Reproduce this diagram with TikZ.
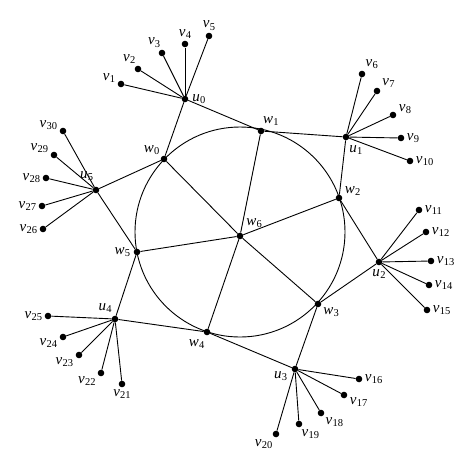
\documentclass[tikz,border=0pt]{standalone}
\usepackage{fontspec}
\setmainfont{Liberation Serif}
\newcommand\lab[2]{{\fontsize{15}{17}\selectfont\textit{#1}}\kern0.3pt\raisebox{-0.45ex}{\fontsize{10.5}{11}\selectfont #2}}
\begin{document}
\begin{tikzpicture}[x=1pt,y=-1pt,
  dot/.style={circle,fill=black,inner sep=0pt,minimum size=6.6pt},
  every label/.style={inner sep=1.2pt},
  label distance=1pt,
  edge/.style={line width=0.9pt}]
\useasboundingbox (0,0) rectangle (474,467);
% circle
\draw[edge] (240,232) circle[radius=105];
% inner vertices
\node[dot,label={135:\lab{w}{0}}] (w0) at (164,159) {};
\node[dot,label={80:\lab{w}{1}}] (w1) at (261,131) {};
\node[dot,label={10:\lab{w}{2}}] (w2) at (339,198) {};
\node[dot,label={-30:\lab{w}{3}}] (w3) at (318,304) {};
\node[dot,label={[label distance=3pt]-100:\lab{w}{4}}] (w4) at (207,332) {};
\node[dot,label={[label distance=2pt]180:\lab{w}{5}}] (w5) at (137,252) {};
\node[dot,label={[label distance=5pt]55:\lab{w}{6}}] (w6) at (240,236) {};
% outer hubs
\node[dot,label={[label distance=2.5pt]0:\lab{u}{0}}] (u0) at (185,99) {};
\node[dot,label={[label distance=4pt]-75:\lab{u}{1}}] (u1) at (346,137) {};
\node[dot,label={[label distance=3pt]-90:\lab{u}{2}}] (u2) at (379,262) {};
\node[dot,label={[label distance=3pt]190:\lab{u}{3}}] (u3) at (295,369) {};
\node[dot,label={[label distance=2pt]110:\lab{u}{4}}] (u4) at (115,319) {};
\node[dot,label={[label distance=5pt]100:\lab{u}{5}}] (u5) at (96,190) {};
% leaves
\node[dot,label={175:\lab{v}{1}}] (v1) at (121,84) {};
\node[dot,label={105:\lab{v}{2}}] (v2) at (138,69) {};
\node[dot,label={95:\lab{v}{3}}] (v3) at (162,53) {};
\node[dot,label={90:\lab{v}{4}}] (v4) at (185,44) {};
\node[dot,label={90:\lab{v}{5}}] (v5) at (209,36) {};
\node[dot,label={60:\lab{v}{6}}] (v6) at (362,74) {};
\node[dot,label={25:\lab{v}{7}}] (v7) at (377,91) {};
\node[dot,label={5:\lab{v}{8}}] (v8) at (393,115) {};
\node[dot,label={0:\lab{v}{9}}] (v9) at (401,138) {};
\node[dot,label={0:\lab{v}{10}}] (v10) at (410,161) {};
\node[dot,label={0:\lab{v}{11}}] (v11) at (419,210) {};
\node[dot,label={0:\lab{v}{12}}] (v12) at (426,232) {};
\node[dot,label={0:\lab{v}{13}}] (v13) at (431,261) {};
\node[dot,label={0:\lab{v}{14}}] (v14) at (429,285) {};
\node[dot,label={0:\lab{v}{15}}] (v15) at (427,310) {};
\node[dot,label={0:\lab{v}{16}}] (v16) at (359,379) {};
\node[dot,label={-10:\lab{v}{17}}] (v17) at (344,395) {};
\node[dot,label={-45:\lab{v}{18}}] (v18) at (321,413) {};
\node[dot,label={-75:\lab{v}{19}}] (v19) at (299,424) {};
\node[dot,label={-120:\lab{v}{20}}] (v20) at (276,434) {};
\node[dot,label={-90:\lab{v}{21}}] (v21) at (122,384) {};
\node[dot,label={-150:\lab{v}{22}}] (v22) at (101,373) {};
\node[dot,label={-170:\lab{v}{23}}] (v23) at (79,355) {};
\node[dot,label={-175:\lab{v}{24}}] (v24) at (63,337) {};
\node[dot,label={180:\lab{v}{25}}] (v25) at (48,316) {};
\node[dot,label={180:\lab{v}{26}}] (v26) at (43,229) {};
\node[dot,label={180:\lab{v}{27}}] (v27) at (42,206) {};
\node[dot,label={180:\lab{v}{28}}] (v28) at (46,178) {};
\node[dot,label={170:\lab{v}{29}}] (v29) at (54,155) {};
\node[dot,label={175:\lab{v}{30}}] (v30) at (63,131) {};
% spokes
\foreach \i in {0,...,5} \draw[edge] (w6) -- (w\i);
% hub to circle
\draw[edge] (w0) -- (u0) -- (w1) -- (u1) -- (w2) -- (u2) -- (w3) -- (u3) -- (w4) -- (u4) -- (w5) -- (u5) -- (w0);
% leaves
\foreach \i in {1,...,5} \draw[edge] (u0) -- (v\i);
\foreach \i in {6,...,10} \draw[edge] (u1) -- (v\i);
\foreach \i in {11,...,15} \draw[edge] (u2) -- (v\i);
\foreach \i in {16,...,20} \draw[edge] (u3) -- (v\i);
\foreach \i in {21,...,25} \draw[edge] (u4) -- (v\i);
\foreach \i in {26,...,30} \draw[edge] (u5) -- (v\i);
\end{tikzpicture}
\end{document}
